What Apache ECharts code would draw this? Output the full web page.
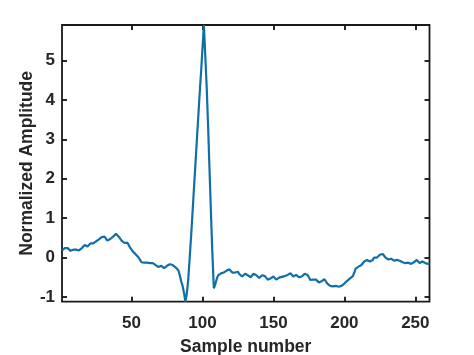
<!DOCTYPE html>
<html><head><meta charset="utf-8">
<script src="https://cdn.jsdelivr.net/npm/echarts@6/dist/echarts.min.js"></script>
<style>html,body{margin:0;padding:0;background:#fff}#c{width:474px;height:355px}</style>
</head><body><div id="c"></div>
<script>
const xTicks = [50, 100, 150, 200, 250];
const yTicks = [-1, 0, 1, 2, 3, 4, 5];
const amplitude = [
 0.18,0.21,0.24,0.23,0.24,0.20,0.17,0.15,0.20,0.24,
 0.20,0.15,0.18,0.23,0.24,0.28,0.32,0.30,0.28,0.32,
 0.36,0.37,0.36,0.38,0.41,0.44,0.46,0.50,0.52,0.53,
 0.53,0.48,0.43,0.44,0.47,0.49,0.53,0.57,0.60,0.57,
 0.53,0.48,0.43,0.40,0.37,0.36,0.38,0.32,0.25,0.20,
 0.15,0.11,0.08,0.05,0.00,-0.06,-0.12,-0.16,-0.13,-0.10,
 -0.13,-0.16,-0.14,-0.13,-0.14,-0.15,-0.19,-0.23,-0.24,-0.22,
 -0.21,-0.24,-0.27,-0.24,-0.21,-0.20,-0.17,-0.16,-0.19,-0.22,
 -0.25,-0.28,-0.32,-0.45,-0.60,-0.72,-0.90,-1.12,-0.90,-0.55,
 0.00,0.55,1.15,1.75,2.35,2.95,3.55,4.15,4.70,5.30,
 5.90,5.10,4.30,3.30,2.20,1.10,0.10,-0.78,-0.68,-0.55,
 -0.45,-0.42,-0.40,-0.37,-0.38,-0.36,-0.33,-0.31,-0.30,-0.34,
 -0.38,-0.40,-0.38,-0.35,-0.36,-0.42,-0.47,-0.48,-0.44,-0.41,
 -0.40,-0.45,-0.50,-0.50,-0.45,-0.41,-0.40,-0.45,-0.50,-0.52,
 -0.48,-0.45,-0.44,-0.47,-0.52,-0.56,-0.57,-0.53,-0.50,-0.48,
 -0.52,-0.56,-0.55,-0.51,-0.50,-0.49,-0.48,-0.47,-0.45,-0.44,
 -0.41,-0.40,-0.45,-0.48,-0.46,-0.44,-0.47,-0.50,-0.49,-0.48,
 -0.44,-0.41,-0.42,-0.44,-0.50,-0.57,-0.61,-0.56,-0.52,-0.56,
 -0.61,-0.63,-0.63,-0.60,-0.56,-0.55,-0.60,-0.66,-0.70,-0.72,
 -0.74,-0.73,-0.72,-0.72,-0.73,-0.74,-0.73,-0.72,-0.70,-0.66,
 -0.61,-0.59,-0.57,-0.53,-0.50,-0.47,-0.38,-0.28,-0.25,-0.23,
 -0.21,-0.19,-0.15,-0.10,-0.07,-0.06,-0.06,-0.10,-0.12,-0.06,
 0.00,0.01,0.00,0.02,0.07,0.08,0.09,0.04,0.00,-0.02,
 -0.05,-0.06,-0.03,-0.05,-0.08,-0.07,-0.06,-0.07,-0.08,-0.10,
 -0.12,-0.13,-0.14,-0.14,-0.13,-0.14,-0.16,-0.19,-0.12,-0.07,
 -0.06,-0.10,-0.14,-0.12,-0.10,-0.11,-0.14,-0.17,-0.16,-0.15
];
const samples = amplitude.map((v, i) => i + 1);
const data = samples.map((s, i) => [s, amplitude[i]]);

const FONT = 'Liberation Sans';
const txt = '#262626';
const xMin = 1, xMax = 260, yMin = -1.12, yMax = 5.9;
const tickStyle = {show: true, inside: true, length: 5, lineStyle: {color: '#111', width: 1.8}};
const noLine = {show: false, onZero: false};
const chart = echarts.init(document.getElementById('c'));
chart.setOption({
  animation: false,
  grid: {left: 62, right: 44.5, top: 25, bottom: 53.3, outerBoundsMode: 'none', containLabel: false,
         show: true, borderColor: '#1a1a1a', borderWidth: 1.8, backgroundColor: '#fff'},
  xAxis: [{
    type: 'value', min: xMin, max: xMax, position: 'bottom',
    name: 'Sample number', nameLocation: 'middle', nameGap: 36, nameMoveOverlap: false,
    nameTextStyle: {fontFamily: FONT, fontWeight: 'bold', fontSize: 17.5, color: txt},
    axisLine: noLine,
    axisTick: Object.assign({customValues: xTicks}, tickStyle),
    axisLabel: {customValues: xTicks, fontFamily: FONT, fontWeight: 'bold', fontSize: 17, color: txt, margin: 13},
    splitLine: {show: false}
  }, {
    type: 'value', min: xMin, max: xMax, position: 'top',
    axisLine: noLine,
    axisTick: Object.assign({customValues: xTicks}, tickStyle),
    axisLabel: {show: false}, splitLine: {show: false}
  }],
  yAxis: [{
    type: 'value', min: yMin, max: yMax, position: 'left',
    name: 'Normalized Amplitude', nameLocation: 'middle', nameGap: 26, nameMoveOverlap: false,
    nameTextStyle: {fontFamily: FONT, fontWeight: 'bold', fontSize: 17.5, color: txt},
    axisLine: noLine,
    axisTick: Object.assign({customValues: yTicks}, tickStyle),
    axisLabel: {customValues: yTicks, fontFamily: FONT, fontWeight: 'bold', fontSize: 17, color: txt, margin: 7},
    splitLine: {show: false}
  }, {
    type: 'value', min: yMin, max: yMax, position: 'right',
    axisLine: noLine,
    axisTick: Object.assign({customValues: yTicks}, tickStyle),
    axisLabel: {show: false}, splitLine: {show: false}
  }],
  series: [{
    type: 'line', data: data, showSymbol: false, clip: true,
    lineStyle: {color: '#0f6fa8', width: 2.2}
  }]
});
</script></body></html>
